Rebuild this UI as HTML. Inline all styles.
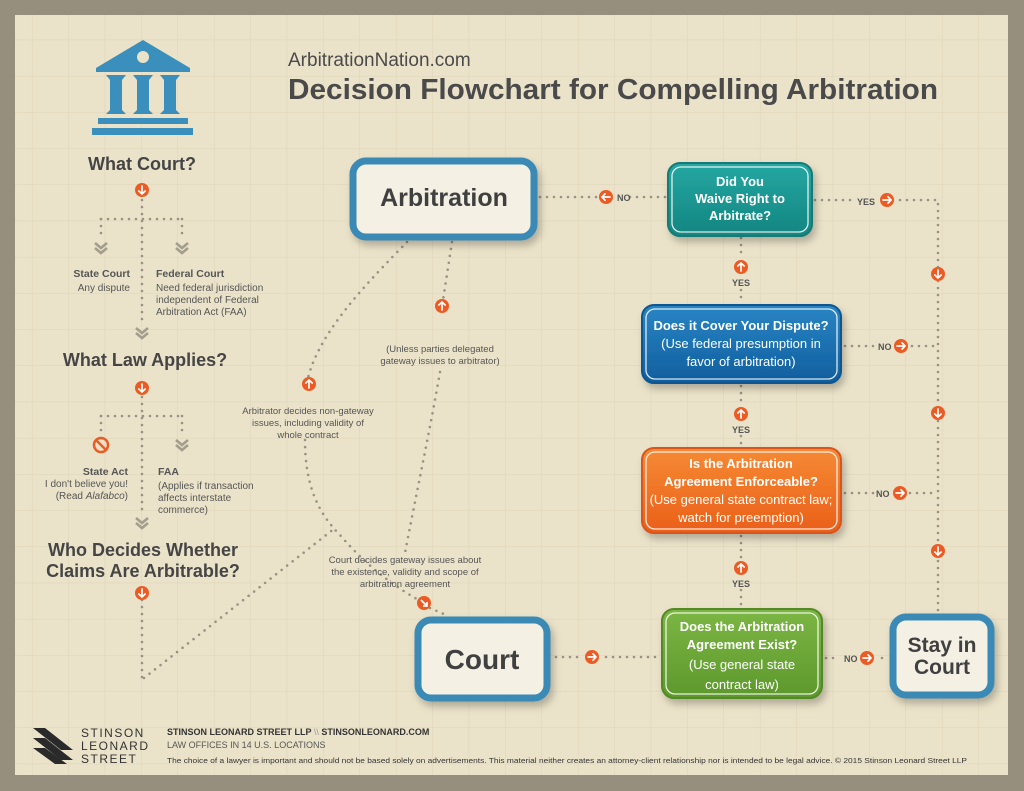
<!DOCTYPE html>
<html><head><meta charset="utf-8"><style>
html,body{margin:0;padding:0;background:#968f7d;}
svg{display:block}
text{font-family:"Liberation Sans",sans-serif}
</style></head><body>
<svg width="1024" height="791" viewBox="0 0 1024 791" xmlns="http://www.w3.org/2000/svg">
<defs>
<pattern id="g" width="36.4" height="36.2" patternUnits="userSpaceOnUse" x="-4" y="4">
<path d="M36.4 0V36.2M0 36.2H36.4" stroke="#dcd3b8" stroke-width="1" fill="none"/>
</pattern>
<filter id="sh" x="-20%" y="-20%" width="140%" height="150%"><feDropShadow dx="3" dy="5" stdDeviation="4" flood-color="#000" flood-opacity="0.25"/></filter>
<linearGradient id="tg" x1="0" y1="0" x2="0" y2="1"><stop offset="0" stop-color="#26a7a2"/><stop offset="1" stop-color="#128580"/></linearGradient>
<linearGradient id="bg" x1="0" y1="0" x2="0" y2="1"><stop offset="0" stop-color="#2a85c4"/><stop offset="1" stop-color="#0f5e9e"/></linearGradient>
<linearGradient id="og" x1="0" y1="0" x2="0" y2="1"><stop offset="0" stop-color="#f58a35"/><stop offset="1" stop-color="#ea5f18"/></linearGradient>
<linearGradient id="gg" x1="0" y1="0" x2="0" y2="1"><stop offset="0" stop-color="#7cb644"/><stop offset="1" stop-color="#5d982c"/></linearGradient>
<g id="ad"><circle r="7" fill="#ec5b24"/><path d="M0 -4V4M-3.2 1L0 4L3.2 1" stroke="#fff" stroke-width="1.7" fill="none" stroke-linecap="round"/></g>
<g id="au"><circle r="7" fill="#ec5b24"/><path d="M0 4V-4M-3.2 -1L0 -4L3.2 -1" stroke="#fff" stroke-width="1.7" fill="none" stroke-linecap="round"/></g>
<g id="ar"><circle r="7" fill="#ec5b24"/><path d="M-4 0H4M1 -3.2L4 0L1 3.2" stroke="#fff" stroke-width="1.7" fill="none" stroke-linecap="round"/></g>
<g id="al"><circle r="7" fill="#ec5b24"/><path d="M4 0H-4M-1 -3.2L-4 0L-1 3.2" stroke="#fff" stroke-width="1.7" fill="none" stroke-linecap="round"/></g>
<g id="chev"><path d="M-6 -5L0 0L6 -5M-6 0L0 5L6 0" stroke="#a39d8e" stroke-width="2.6" fill="none"/></g>
</defs>
<rect x="0" y="0" width="1024" height="791" fill="#968f7d"/>
<rect x="15" y="15" width="993" height="760" fill="#ebe3c9"/>
<rect x="15" y="15" width="993" height="760" fill="url(#g)"/>

<g fill="#3a8fbd">
<path d="M143 40L190 68H96Z"/><circle cx="143" cy="57" r="6" fill="#ebe3c9"/>
<rect x="96" y="68" width="94" height="4"/>
<path d="M106 75h20l-4 5v30l4 4h-20l4-4v-30z"/>
<path d="M133 75h20l-4 5v30l4 4h-20l4-4v-30z"/>
<path d="M160 75h20l-4 5v30l4 4h-20l4-4v-30z"/>
<rect x="98" y="118" width="90" height="6"/><rect x="92" y="128" width="101" height="7"/>
</g>

<text x="288" y="66" font-size="19" fill="#4a4a4a">ArbitrationNation.com</text>
<text x="288" y="99" font-size="29" font-weight="bold" fill="#4a4a4a" textLength="650" lengthAdjust="spacingAndGlyphs">Decision Flowchart for Compelling Arbitration</text>

<g stroke="#999183" stroke-width="2.6" stroke-linecap="round" stroke-dasharray="0 7" fill="none">
<path d="M142 200V325"/><path d="M101 219H183"/><path d="M101 219V240"/><path d="M182 219V240"/>
<path d="M142 397V515"/><path d="M101 416H183"/><path d="M101 416V432"/><path d="M182 416V437"/>
<path d="M142 600V678"/>
<path d="M144 678L335 528"/>
<path d="M407 242C370 280 320 330 308 378"/>
<path d="M305 440C305 480 315 510 340 535C370 570 400 590 424 603"/>
<path d="M430 608L446 615"/>
<path d="M452 242L443 300"/><path d="M440 372C430 430 415 500 405 553"/>
<path d="M540 197H600"/><path d="M630 197H666"/>
<path d="M815 200H857"/><path d="M893 200H938V612"/>
<path d="M741 238V258"/><path d="M741 290V303"/>
<path d="M741 386V405"/><path d="M741 436V447"/>
<path d="M741 536V560"/><path d="M741 590V608"/>
<path d="M845 346H876"/><path d="M912 346H936"/>
<path d="M845 493H874"/><path d="M910 493H936"/>
<path d="M556 657H580"/><path d="M606 657H660"/>
<path d="M826 658H838"/><path d="M882 658H888"/>
</g>

<text x="142" y="170" font-size="18" font-weight="bold" fill="#454545" text-anchor="middle">What Court?</text>
<use href="#ad" x="142" y="190"/>
<use href="#chev" x="101" y="248"/><use href="#chev" x="182" y="248"/>
<text x="130" y="277" font-size="10.5" font-weight="bold" fill="#555" text-anchor="end">State Court</text>
<text x="130" y="291" font-size="10" fill="#555" text-anchor="end">Any dispute</text>
<text x="156" y="277" font-size="10.5" font-weight="bold" fill="#555">Federal Court</text>
<text x="156" y="291" font-size="10" fill="#555">Need federal jurisdiction</text>
<text x="156" y="303" font-size="10" fill="#555">independent of Federal</text>
<text x="156" y="315" font-size="10" fill="#555">Arbitration Act (FAA)</text>
<use href="#chev" x="142" y="333"/>
<text x="145" y="366" font-size="18" font-weight="bold" fill="#454545" text-anchor="middle">What Law Applies?</text>
<use href="#ad" x="142" y="388"/>
<circle cx="101" cy="445" r="7" fill="none" stroke="#ec5b24" stroke-width="2.5"/><path d="M96 440L106 450" stroke="#ec5b24" stroke-width="2.5"/>
<use href="#chev" x="182" y="445"/>
<text x="128" y="475" font-size="10.5" font-weight="bold" fill="#555" text-anchor="end">State Act</text>
<text x="128" y="487" font-size="10" fill="#555" text-anchor="end">I don't believe you!</text>
<text x="128" y="499" font-size="10" fill="#555" text-anchor="end">(Read <tspan font-style="italic">Alafabco</tspan>)</text>
<text x="158" y="475" font-size="10.5" font-weight="bold" fill="#555">FAA</text>
<text x="158" y="489" font-size="10" fill="#555">(Applies if transaction</text>
<text x="158" y="501" font-size="10" fill="#555">affects interstate</text>
<text x="158" y="513" font-size="10" fill="#555">commerce)</text>
<use href="#chev" x="142" y="523"/>
<text x="143" y="556" font-size="18" font-weight="bold" fill="#454545" text-anchor="middle">Who Decides Whether</text>
<text x="143" y="577" font-size="18" font-weight="bold" fill="#454545" text-anchor="middle">Claims Are Arbitrable?</text>
<use href="#ad" x="142" y="593"/>

<use href="#au" x="442" y="306"/>
<text x="440" y="352" font-size="9.5" fill="#555" text-anchor="middle">(Unless parties delegated</text>
<text x="440" y="364" font-size="9.5" fill="#555" text-anchor="middle">gateway issues to arbitrator)</text>
<use href="#au" x="309" y="384"/>
<text x="308" y="414" font-size="9.5" fill="#555" text-anchor="middle">Arbitrator decides non-gateway</text>
<text x="308" y="426" font-size="9.5" fill="#555" text-anchor="middle">issues, including validity of</text>
<text x="308" y="438" font-size="9.5" fill="#555" text-anchor="middle">whole contract</text>
<text x="405" y="563" font-size="9.5" fill="#555" text-anchor="middle">Court decides gateway issues about</text>
<text x="405" y="575" font-size="9.5" fill="#555" text-anchor="middle">the existence, validity and scope of</text>
<text x="405" y="587" font-size="9.5" fill="#555" text-anchor="middle">arbitration agreement</text>
<g transform="translate(424 603)"><circle r="7" fill="#ec5b24"/><path d="M-3 -3L3 3M3 -1V3H-1" stroke="#fff" stroke-width="1.7" fill="none"/></g>

<rect x="353" y="161" width="181" height="76" rx="13" fill="#f4f0e4" stroke="#3a8ab5" stroke-width="7" filter="url(#sh)"/>
<text x="444" y="206" font-size="25" font-weight="bold" fill="#404040" text-anchor="middle">Arbitration</text>

<rect x="418" y="620" width="129" height="78" rx="13" fill="#f4f0e4" stroke="#3a8ab5" stroke-width="7" filter="url(#sh)"/>
<text x="482" y="669" font-size="28" font-weight="bold" fill="#404040" text-anchor="middle">Court</text>

<rect x="893" y="617" width="98" height="78" rx="13" fill="#f4f0e4" stroke="#3a8ab5" stroke-width="7" filter="url(#sh)"/>
<text x="942" y="652" font-size="21" font-weight="bold" fill="#404040" text-anchor="middle">Stay in</text>
<text x="942" y="674" font-size="21" font-weight="bold" fill="#404040" text-anchor="middle">Court</text>

<g filter="url(#sh)">
<rect x="668" y="163" width="144" height="73" rx="12" fill="url(#tg)" stroke="#127a76" stroke-width="2"/>
<rect x="642" y="305" width="199" height="78" rx="12" fill="url(#bg)" stroke="#0e5690" stroke-width="2"/>
<rect x="642" y="448" width="199" height="85" rx="12" fill="url(#og)" stroke="#d9551a" stroke-width="2"/>
<rect x="662" y="609" width="160" height="89" rx="12" fill="url(#gg)" stroke="#528a27" stroke-width="2"/>
</g>
<g fill="none" stroke="#fff" stroke-opacity="0.85" stroke-width="1.3">
<rect x="672" y="167" width="136" height="65" rx="9"/>
<rect x="646" y="309" width="191" height="70" rx="9"/>
<rect x="646" y="452" width="191" height="77" rx="9"/>
<rect x="666" y="613" width="152" height="81" rx="9"/>
</g>
<g fill="#fff" text-anchor="middle" font-size="13">
<text x="740" y="186" font-weight="bold">Did You</text>
<text x="740" y="203" font-weight="bold">Waive Right to</text>
<text x="740" y="220" font-weight="bold">Arbitrate?</text>
<text x="741" y="330" font-weight="bold">Does it Cover Your Dispute?</text>
<text x="741" y="348">(Use federal presumption in</text>
<text x="741" y="366">favor of arbitration)</text>
<text x="741" y="468" font-weight="bold">Is the Arbitration</text>
<text x="741" y="486" font-weight="bold">Agreement Enforceable?</text>
<text x="741" y="504">(Use general state contract law;</text>
<text x="741" y="522">watch for preemption)</text>
<text x="742" y="631" font-weight="bold">Does the Arbitration</text>
<text x="742" y="649" font-weight="bold">Agreement Exist?</text>
<text x="742" y="669">(Use general state</text>
<text x="742" y="689">contract law)</text>
</g>

<use href="#al" x="606" y="197"/><text x="617" y="201" font-size="9" font-weight="bold" fill="#555">NO</text>
<text x="857" y="205" font-size="9" font-weight="bold" fill="#555">YES</text><use href="#ar" x="887" y="200"/>
<use href="#ad" x="938" y="274"/><use href="#ad" x="938" y="413"/><use href="#ad" x="938" y="551"/>
<use href="#au" x="741" y="267"/><text x="741" y="286" font-size="9" font-weight="bold" fill="#555" text-anchor="middle">YES</text>
<use href="#au" x="741" y="414"/><text x="741" y="433" font-size="9" font-weight="bold" fill="#555" text-anchor="middle">YES</text>
<use href="#au" x="741" y="568"/><text x="741" y="587" font-size="9" font-weight="bold" fill="#555" text-anchor="middle">YES</text>
<text x="878" y="350" font-size="9" font-weight="bold" fill="#555">NO</text><use href="#ar" x="901" y="346"/>
<text x="876" y="497" font-size="9" font-weight="bold" fill="#555">NO</text><use href="#ar" x="900" y="493"/>
<use href="#ar" x="592" y="657"/>
<text x="844" y="662" font-size="9" font-weight="bold" fill="#555">NO</text><use href="#ar" x="867" y="658"/>

<g fill="#2a2a2a">
<path d="M33 728h12l28 22h-12z"/><path d="M33 738h12l28 22h-12z"/><path d="M33 748h12l22 16h-12z"/>
</g>
<text x="81" y="737" font-size="12" fill="#333" letter-spacing="1.5">STINSON</text>
<text x="81" y="750" font-size="12" fill="#333" letter-spacing="1.5">LEONARD</text>
<text x="81" y="763" font-size="12" fill="#333" letter-spacing="1.5">STREET</text>
<text x="167" y="735" font-size="9" font-weight="bold" fill="#333">STINSON LEONARD STREET LLP <tspan fill="#999" font-weight="normal">\\</tspan> STINSONLEONARD.COM</text>
<text x="167" y="748" font-size="9" fill="#555">LAW OFFICES IN 14 U.S. LOCATIONS</text>
<text x="167" y="763" font-size="7.2" fill="#333" textLength="800" lengthAdjust="spacingAndGlyphs">The choice of a lawyer is important and should not be based solely on advertisements. This material neither creates an attorney-client relationship nor is intended to be legal advice. © 2015 Stinson Leonard Street LLP</text>
</svg>
</body></html>
